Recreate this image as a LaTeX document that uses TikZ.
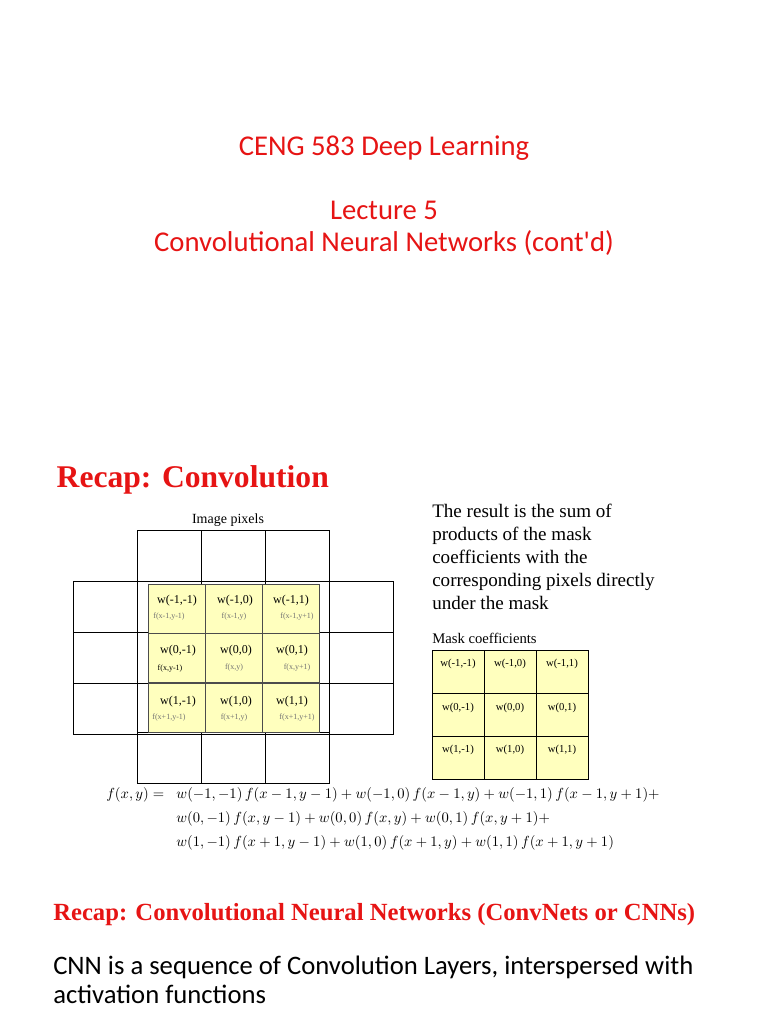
\documentclass[tikz,border=0pt]{standalone}
\usepackage{fontspec}
\setmainfont{Liberation Serif}
\newfontfamily\calib{Carlito}
\usepackage{amsmath}
\usetikzlibrary{positioning}
\definecolor{slidered}{RGB}{230,20,20}
\definecolor{maskyellow}{RGB}{255,255,190}
\tikzset{
  cell/.style={draw=black, thin},
  mask/.style={draw=black!70, fill=maskyellow},
  wlab/.style={font=\fontsize{9}{10}\selectfont, inner sep=0pt},
  flab/.style={font=\fontsize{6}{7}\selectfont, text=black!55, inner sep=0pt},
  title/.style={font=\calib\fontsize{21.5}{24}\selectfont, text=slidered}
}
\begin{document}
\begin{tikzpicture}[x=0.75pt, y=-0.75pt]
        \useasboundingbox (0,0) rectangle (768,1024);
        % title
        \node[title] (t1) at (384,148) {CENG 583 Deep Learning};
        \node[title] (t2) at (384,210) {Lecture 5};
        \node[title] (t3) at (384,243) {Convolutional Neural Networks (cont'd)};
        \node[anchor=west, text=slidered, font=\bfseries\fontsize{23.7}{26}\selectfont] (recap) at (52,480) {Recap: Convolution};
        % image pixel grid
        \node[font=\fontsize{10.5}{12}\selectfont] (imgpix) at (228,520) {Image pixels};
        \foreach \x in {137,201,265} {
          \draw[cell] (\x,530) rectangle ++(64,51);
          \draw[cell] (\x,732) rectangle ++(64,51);
        }
        \foreach \x in {73,329} \foreach \y in {581,632,683}
          \draw[cell] (\x,\y) rectangle ++(64,51);
        \foreach \x in {137,201,265} \foreach \y in {581,632,683}
          \draw[cell] (\x,\y) rectangle ++(64,51);
        % mask over the pixels
        \foreach \x in {148,205,262} \foreach \y in {584,633,683}
          \draw[mask] (\x,\y) rectangle ++(57,49);
        \node[wlab] (w11) at (177,601) {w(-1,-1)};
        \node[wlab] (w12) at (235,601) {w(-1,0)};
        \node[wlab] (w13) at (291,601) {w(-1,1)};
        \node[wlab] (w21) at (178,651) {w(0,-1)};
        \node[wlab] (w22) at (236,651) {w(0,0)};
        \node[wlab] (w23) at (292,651) {w(0,1)};
        \node[wlab] (w31) at (178,702) {w(1,-1)};
        \node[wlab] (w32) at (236,702) {w(1,0)};
        \node[wlab] (w33) at (292,702) {w(1,1)};
        \node[flab] (f11) at (169,617) {f(x-1,y-1)};
        \node[flab] (f12) at (234,617) {f(x-1,y)};
        \node[flab] (f13) at (297,617) {f(x-1,y+1)};
        \node[flab, text=black] (f21) at (170,669) {f(x,y-1)};
        \node[flab] (f22) at (234,668) {f(x,y)};
        \node[flab] (f23) at (297,668) {f(x,y+1)};
        \node[flab] (f31) at (169,718) {f(x+1,y-1)};
        \node[flab] (f32) at (234,718) {f(x+1,y)};
        \node[flab] (f33) at (297,718) {f(x+1,y+1)};
        % explanation
        \node[anchor=north west, align=left, font=\fontsize{14.3}{17.3}\selectfont, inner sep=0pt] (expl) at (432,504)
          {The result is the sum of\\products of the mask\\coefficients with the\\corresponding pixels directly\\under the mask};
        \node[anchor=west, font=\fontsize{11}{12}\selectfont, inner sep=0pt] (maskc) at (432,638) {Mask coefficients};
        % mask coefficient table
        \foreach \x in {432,484,536} \foreach \y in {650,693,736}
          \draw[mask, draw=black] (\x,\y) rectangle ++(52,43);
        \node[wlab, font=\fontsize{8}{9}\selectfont] (m11) at (458,664) {w(-1,-1)};
        \node[wlab, font=\fontsize{8}{9}\selectfont] (m12) at (510,664) {w(-1,0)};
        \node[wlab, font=\fontsize{8}{9}\selectfont] (m13) at (562,664) {w(-1,1)};
        \node[wlab, font=\fontsize{8}{9}\selectfont] (m21) at (458,708) {w(0,-1)};
        \node[wlab, font=\fontsize{8}{9}\selectfont] (m22) at (510,708) {w(0,0)};
        \node[wlab, font=\fontsize{8}{9}\selectfont] (m23) at (562,708) {w(0,1)};
        \node[wlab, font=\fontsize{8}{9}\selectfont] (m31) at (458,750) {w(1,-1)};
        \node[wlab, font=\fontsize{8}{9}\selectfont] (m32) at (510,750) {w(1,0)};
        \node[wlab, font=\fontsize{8}{9}\selectfont] (m33) at (562,750) {w(1,1)};
        % formula
        \node[anchor=west, inner sep=0pt, font=\fontsize{10.9}{12}\selectfont] (eq1) at (106,795)
          {$f(x,y) = \;\; w(-1,-1)\,f(x-1,y-1)+w(-1,0)\,f(x-1,y)+w(-1,1)\,f(x-1,y+1)+$};
        \node[anchor=west, inner sep=0pt, font=\fontsize{10.9}{12}\selectfont] (eq2) at (176,819)
          {$w(0,-1)\,f(x,y-1)+w(0,0)\,f(x,y)+w(0,1)\,f(x,y+1)+$};
        \node[anchor=west, inner sep=0pt, font=\fontsize{10.9}{12}\selectfont] (eq3) at (176,843)
          {$w(1,-1)\,f(x+1,y-1)+w(1,0)\,f(x+1,y)+w(1,1)\,f(x+1,y+1)$};
        % CNN recap
        \node[anchor=west, inner sep=0pt, text=slidered, font=\bfseries\fontsize{18.5}{20}\selectfont] (recap2) at (53,915)
          {Recap: Convolutional Neural Networks (ConvNets or CNNs)};
        \node[anchor=north west, align=left, inner sep=0pt, font=\calib\fontsize{20}{21.5}\selectfont] (cnn) at (53,956)
          {CNN is a sequence of Convolution Layers, interspersed with\\activation functions};
\end{tikzpicture}
\end{document}
